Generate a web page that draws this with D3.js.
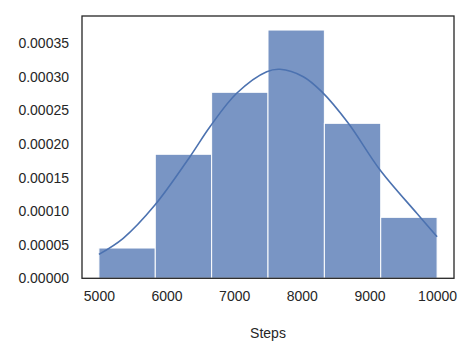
<!DOCTYPE html>
<html><head><meta charset="utf-8">
<script src="https://cdn.jsdelivr.net/npm/d3@7"></script>
<style>body{margin:0;background:#fff}svg{display:block}text{font-family:"Liberation Sans",Arial,sans-serif;fill:#262626}</style>
</head><body><svg id="c" width="474" height="355"></svg>
<script>
// Histogram (density) of Steps: 6 bins from 5000 to 10000
const binEdges = [5000, 5833.33, 6666.67, 7500, 8333.33, 9166.67, 10000];
const densities = [0.0000451, 0.0001847, 0.000277, 0.0003697, 0.0002308, 0.0000908];
// KDE curve points
const kdeX = [5000, 5359, 5828, 6346, 6642, 7037, 7481, 7678, 8022, 8294, 8688, 9157, 9700, 10000];
const kdeY = [0.0000357, 0.0000596, 0.0001091, 0.0001811, 0.0002257, 0.0002755, 0.0003076, 0.0003112, 0.0003002, 0.0002779, 0.0002308, 0.0001613, 0.0000968, 0.0000619];
const xTicks = [5000, 6000, 7000, 8000, 9000, 10000];
const yTicks = [0, 0.00005, 0.0001, 0.00015, 0.0002, 0.00025, 0.0003, 0.00035];
const xLabel = "Steps";

const L = 82, T = 16, R = 454, B = 278.3;
const svg = d3.select("#c");
const x = d3.scaleLinear().domain([4750, 10250]).range([L, R]);
const y = d3.scaleLinear().domain([0, 0.0003906]).range([B, T]);

const bars = densities.map((d, i) => ({x0: binEdges[i], x1: binEdges[i + 1], v: d}));
svg.append("g").selectAll("rect").data(bars).join("rect")
  .attr("x", d => x(d.x0)).attr("width", d => x(d.x1) - x(d.x0))
  .attr("y", d => y(d.v)).attr("height", d => y(0) - y(d.v))
  .attr("fill", "#4c72b0").attr("fill-opacity", 0.75)
  .attr("stroke", "#fff").attr("stroke-width", 1);

const pts = kdeX.map((v, i) => [v, kdeY[i]]);
svg.append("path").datum(pts)
  .attr("d", d3.line().x(d => x(d[0])).y(d => y(d[1])).curve(d3.curveCatmullRom.alpha(0.5)))
  .attr("fill", "none").attr("stroke", "#4c72b0").attr("stroke-width", 1.6);

svg.append("rect").attr("x", L).attr("y", T).attr("width", R - L).attr("height", B - T)
  .attr("fill", "none").attr("stroke", "#262626").attr("stroke-width", 1.3);

const xa = svg.append("g").attr("transform", `translate(0,${B})`)
  .call(d3.axisBottom(x).tickValues(xTicks).tickSize(0).tickPadding(13).tickFormat(d3.format("d")));
xa.select(".domain").remove();
xa.selectAll("text").style("font-size", "14px").style("fill", "#262626");

const ya = svg.append("g").attr("transform", `translate(${L},0)`)
  .call(d3.axisLeft(y).tickValues(yTicks).tickSize(0).tickPadding(13).tickFormat(d3.format(".5f")));
ya.select(".domain").remove();
ya.selectAll("text").style("font-size", "14px").style("fill", "#262626");

svg.append("text").attr("x", (L + R) / 2).attr("y", 338).attr("text-anchor", "middle")
  .style("font-size", "14px").text(xLabel);
</script></body></html>
